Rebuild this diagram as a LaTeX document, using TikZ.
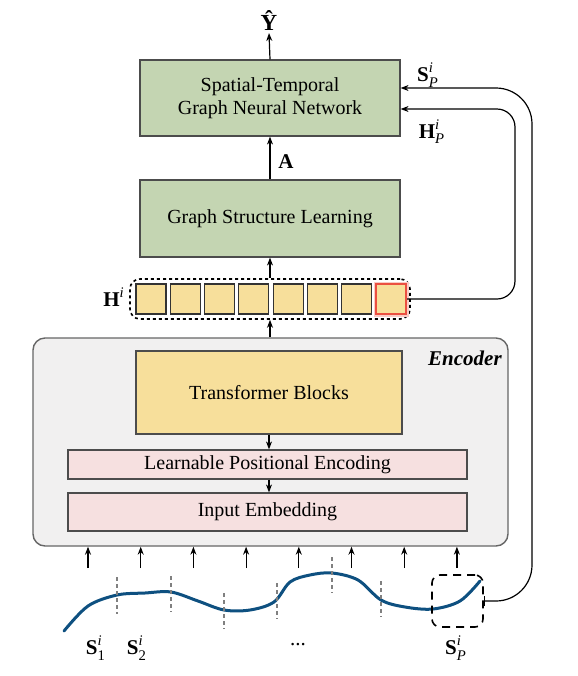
\documentclass[tikz,border=0pt]{standalone}
\usepackage{amsmath}
\usepackage{fontspec}
\setmainfont{Liberation Serif}
\usetikzlibrary{arrows.meta}

\definecolor{gnngreen}{RGB}{196,213,178}
\definecolor{tfyellow}{RGB}{247,223,155}
\definecolor{embpink}{RGB}{246,224,224}
\definecolor{encgray}{RGB}{241,240,240}
\definecolor{seqblue}{RGB}{14,80,128}
\definecolor{hlred}{RGB}{235,80,65}

\newcommand{\segsym}[2]{$\textbf{#1}^{\textit{i}}_{\text{#2}}$}

\tikzset{
  block/.style={draw=black!70, line width=0.6pt, inner sep=0pt, align=center, font=\fontsize{10}{11.5}\selectfont},
  cell/.style={draw=black!80, line width=0.6pt, fill=tfyellow, minimum width=15pt, minimum height=15pt, inner sep=0pt},
  arr/.style={-{Stealth[length=4pt,width=3pt]}, line width=0.6pt},
  sep/.style={draw=black!50, line width=0.6pt, dash pattern=on 2pt off 1.5pt},
  lbl/.style={font=\fontsize{10.5}{12}\selectfont, inner sep=1pt},
}

\begin{document}
\begin{tikzpicture}[x=0.5pt, y=-0.5pt]
            \useasboundingbox (0,0) rectangle (578,676);

            \node (enc) at (270.5, 442) [draw=black!60, line width=0.7pt, fill=encgray, rounded corners=6pt, minimum width=237.5pt, minimum height=104pt] {};
            \node (enclbl) at (465, 358) [lbl] {\textbf{\textit{Encoder}}};

            \node (gnn) at (270, 98) [block, fill=gnngreen, minimum width=130pt, minimum height=38pt] {Spatial-Temporal\\Graph Neural Network};
            \node (gsl) at (270, 218.5) [block, fill=gnngreen, minimum width=130pt, minimum height=38.5pt] {Graph Structure Learning};
            \node (hbox) at (270, 299) [draw, line width=0.8pt, dash pattern=on 1.5pt off 1.5pt, rounded corners=5pt, minimum width=140pt, minimum height=20pt] {};
            \node (tf) at (269, 392.5) [block, fill=tfyellow, minimum width=133pt, minimum height=41.5pt] {Transformer Blocks};
            \node (lpe) at (267.5, 464.5) [block, fill=embpink, minimum width=199.5pt, minimum height=14.5pt] {Learnable Positional Encoding};
            \node (ie) at (267.5, 512) [block, fill=embpink, minimum width=199.5pt, minimum height=19pt] {Input Embedding};

            \foreach \k in {1,...,7}
                \node (h\k) at ({151+34.29*(\k-1)}, 299) [cell] {};
            \node (h8glow) at (391, 299) [draw=hlred!30, line width=2.5pt, minimum width=15pt, minimum height=15pt, inner sep=0pt] {};
            \node (h8) at (391, 299) [cell, draw=hlred, line width=1pt] {};

            \node (yhat) at (269, 21) [lbl, font=\fontsize{11.5}{12}\selectfont] {\textbf{Ŷ}};
            \coordinate (yend) at (269, 33);
            \node (alb) at (286, 162) [lbl] {\textbf{A}};
            \node (hlb) at (114, 297) [lbl] {$\textbf{H}^{\textit{i}}$};
            \node (splb) at (428, 75) [lbl] {$\textbf{S}^{\textit{i}}_{\textit{P}}$};
            \node (hplb) at (432, 132) [lbl] {$\textbf{H}^{\textit{i}}_{\textit{P}}$};

            \draw[arr] (gnn.north) -- (yend);
            \draw[arr] (gsl.north) -- (gnn.south);
            \draw[arr] (hbox.north) -- (gsl.south);
            \draw[arr] (enc.north -| hbox.south) -- (hbox.south);
            \draw[arr] (tf.south) -- (tf.south |- lpe.north);
            \draw[arr] (lpe.south -| tf.south) -- (ie.north -| tf.south);

            \foreach \k in {0,...,7} {
                \coordinate (in\k) at ({88+52.7*\k}, 568);
                \draw[arr] (in\k) -- (in\k |- enc.south);
            }

            \draw[seqblue, line width=1.5pt, line cap=round] plot[smooth, tension=0.55] coordinates {(64,631) (88,606) (117,595) (145,593) (171,592) (198,601) (224,610) (250,610) (274,602) (290,582) (310,575) (332,573) (358,580) (381,600) (405,607) (433,609) (460,601) (480,581)};
            \draw[sep] (117,577) -- (117,614);
            \draw[sep] (171,576) -- (171,612);
            \draw[sep] (224,593) -- (224,629);
            \draw[sep] (277,583) -- (277,619);
            \draw[sep] (332,557) -- (332,593);
            \draw[sep] (381,581) -- (381,617);

            \node (pbox) at (457.5, 601) [draw, line width=0.8pt, dash pattern=on 4pt off 3pt, rounded corners=4pt, minimum width=25.5pt, minimum height=26pt] {};

            \node (s1) at (96, 648) [lbl] {\segsym{S}{1}};
            \node (s2) at (137, 648) [lbl] {\segsym{S}{2}};
            \node (dots) at (298, 645) [lbl] {...};
            \node (sp) at (456, 648) [lbl] {$\textbf{S}^{\textit{i}}_{\textit{P}}$};

            \coordinate (spin) at ([yshift=5pt]gnn.east);
            \coordinate (hpin) at ([yshift=-5.5pt]gnn.east);
            \draw[{Bar[width=5pt]}-{Stealth[length=4pt,width=3pt]}, line width=0.6pt, rounded corners=18pt] (pbox.east) -- (532, 601) -- (532, 88) -- (spin);
            \draw[arr, rounded corners=9pt] (h8.east) -- (515, 299) -- (515, 109) -- (hpin);

        \end{tikzpicture}
\end{document}
